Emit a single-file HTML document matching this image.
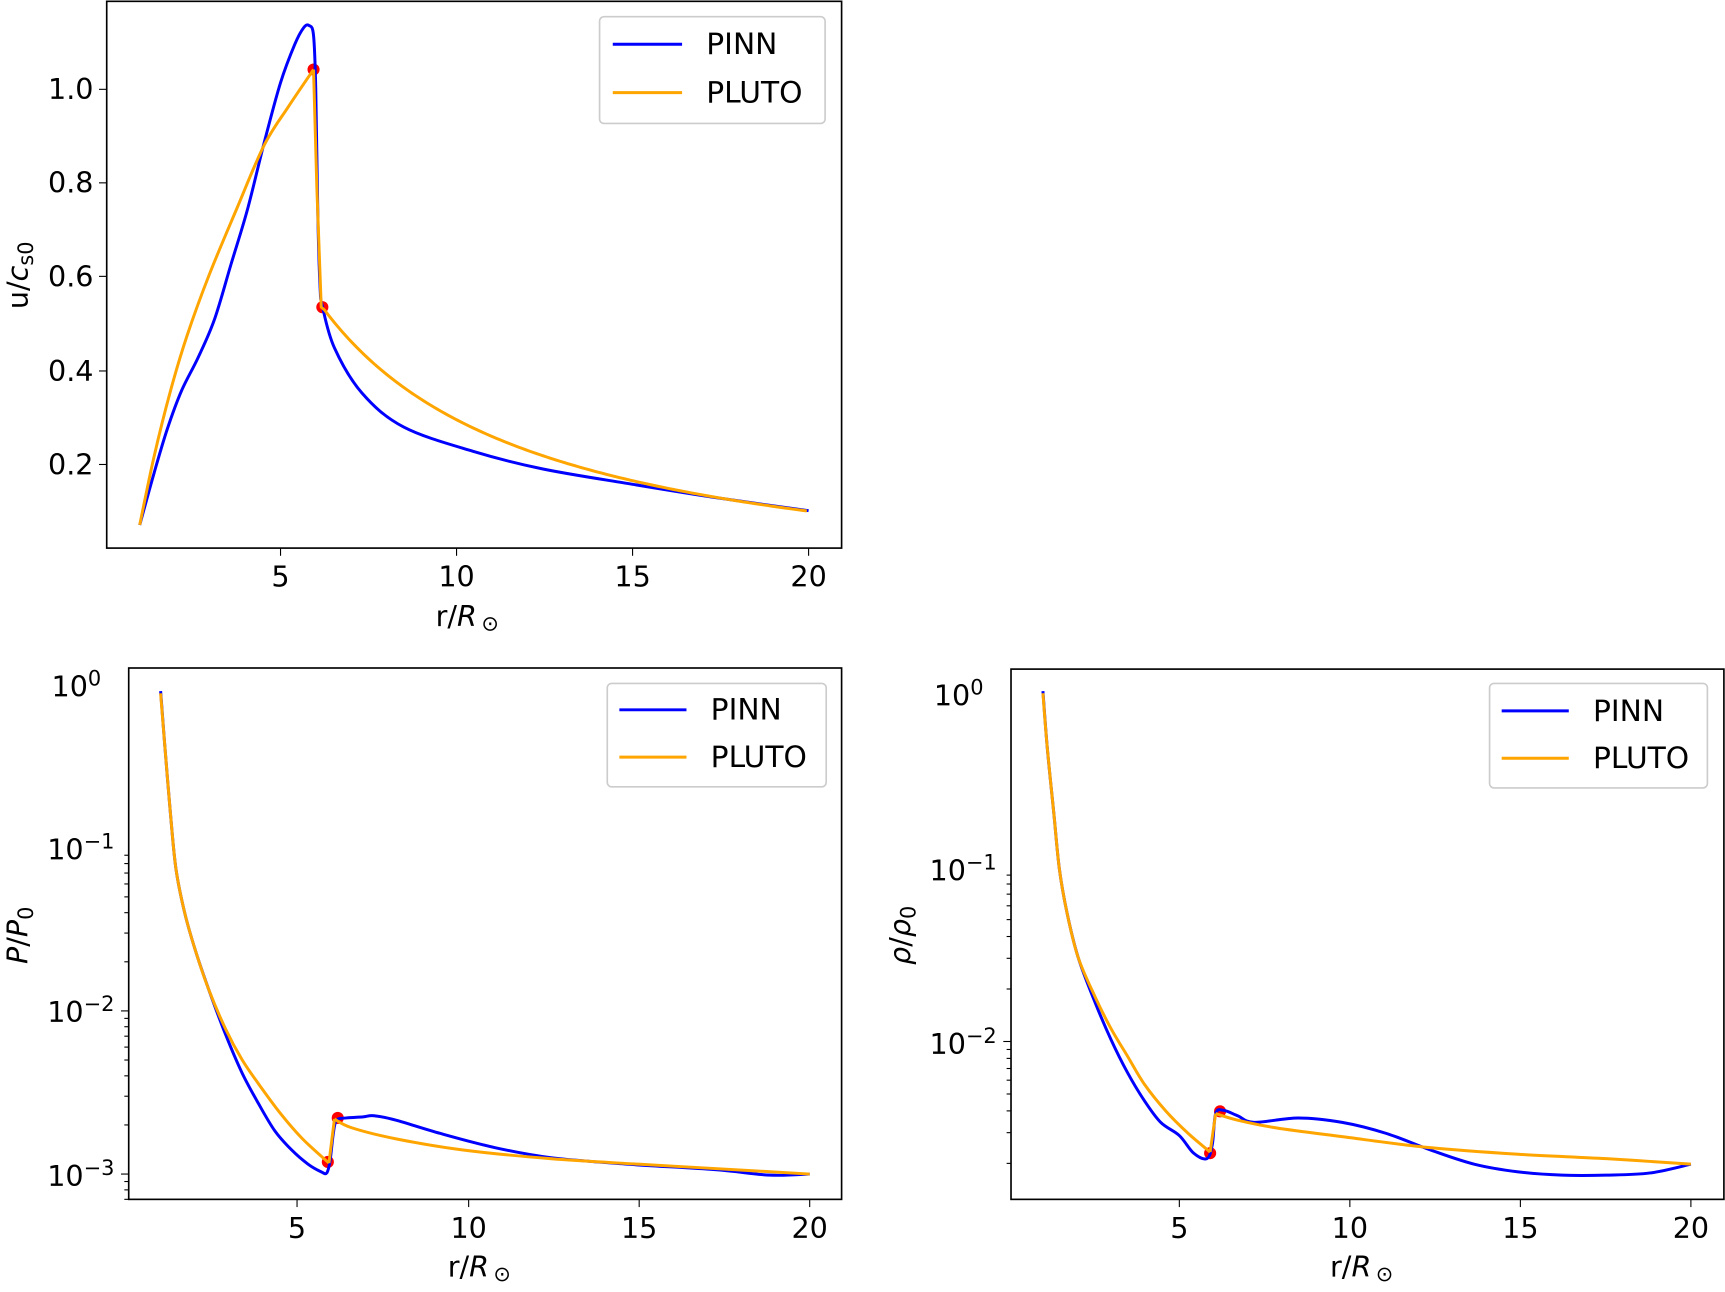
<!DOCTYPE html>
<html><head><meta charset="utf-8">
<style>
html,body{margin:0;padding:0;background:#fff;}
svg{display:block;}
text{font-family:"DejaVu Sans","Liberation Sans",sans-serif;fill:#000;}
</style></head>
<body>
<svg id="s" width="1725" height="1292" viewBox="0 0 1568 1174" xmlns="http://www.w3.org/2000/svg">
<rect x="0" y="0" width="1568" height="1174" fill="#fff"/>
<g id="curves"></g>
<g id="ticks" stroke="#000" stroke-width="1"></g>
<rect x="97" y="1" width="668" height="497" fill="none" stroke="#000" stroke-width="1.5"/>
<rect x="117" y="607" width="648" height="483" fill="none" stroke="#000" stroke-width="1.5"/>
<rect x="919" y="608" width="648" height="482" fill="none" stroke="#000" stroke-width="1.5"/>

<g font-size="26" text-anchor="end">
<text x="85" y="90">1.0</text><text x="85" y="175">0.8</text><text x="85" y="260">0.6</text>
<text x="85" y="346">0.4</text><text x="85" y="431">0.2</text>
</g>
<g font-size="26" text-anchor="middle">
<text x="255" y="533">5</text><text x="415" y="533">10</text><text x="575" y="533">15</text><text x="735" y="533">20</text>
<text x="270" y="1125">5</text><text x="426" y="1125">10</text><text x="581" y="1125">15</text><text x="736" y="1125">20</text>
<text x="1072" y="1125">5</text><text x="1227" y="1125">10</text><text x="1382" y="1125">15</text><text x="1537" y="1125">20</text>
</g>
<text x="396" y="569" font-size="26">r/<tspan font-style="italic">R</tspan><tspan font-size="19" dx="4" dy="4">⊙</tspan></text>
<text x="407" y="1160" font-size="26">r/<tspan font-style="italic">R</tspan><tspan font-size="19" dx="4" dy="4">⊙</tspan></text>
<text x="1209" y="1160" font-size="26">r/<tspan font-style="italic">R</tspan><tspan font-size="19" dx="4" dy="4">⊙</tspan></text>
<text transform="translate(25,250) rotate(-90)" font-size="26" text-anchor="middle">u/<tspan font-style="italic">c</tspan><tspan font-size="19" dy="5">s0</tspan></text>
<text transform="translate(25,850) rotate(-90)" font-size="26" text-anchor="middle"><tspan font-style="italic">P</tspan>/<tspan font-style="italic">P</tspan><tspan font-size="19" dy="5">0</tspan></text>
<text transform="translate(827,850) rotate(-90)" font-size="26" text-anchor="middle"><tspan font-style="italic">ρ</tspan>/<tspan font-style="italic">ρ</tspan><tspan font-size="19" dy="5">0</tspan></text>

<g font-size="26" text-anchor="end">
<text x="92" y="633">10<tspan font-size="19" dy="-10">0</tspan></text>
<text x="104" y="781">10<tspan font-size="19" dy="-10">−1</tspan></text>
<text x="104" y="929">10<tspan font-size="19" dy="-10">−2</tspan></text>
<text x="104" y="1078">10<tspan font-size="19" dy="-10">−3</tspan></text>
<text x="894" y="641">10<tspan font-size="19" dy="-10">0</tspan></text>
<text x="906" y="800">10<tspan font-size="19" dy="-10">−1</tspan></text>
<text x="906" y="958">10<tspan font-size="19" dy="-10">−2</tspan></text>
</g>

<g>
<rect x="545" y="15" width="205" height="97" rx="4" fill="#fff" stroke="#ccc" stroke-width="1.5"/>
<line x1="557" y1="40" x2="620" y2="40" stroke="#0000ff" stroke-width="2.7"/>
<line x1="557" y1="84" x2="620" y2="84" stroke="#ffa500" stroke-width="2.7"/>
<text x="642" y="49" font-size="27">PINN</text><text x="642" y="93" font-size="27">PLUTO</text>

<rect x="552" y="621" width="199" height="94" rx="4" fill="#fff" stroke="#ccc" stroke-width="1.5"/>
<line x1="563" y1="645" x2="624" y2="645" stroke="#0000ff" stroke-width="2.7"/>
<line x1="563" y1="688" x2="624" y2="688" stroke="#ffa500" stroke-width="2.7"/>
<text x="646" y="654" font-size="27">PINN</text><text x="646" y="697" font-size="27">PLUTO</text>

<rect x="1354" y="621" width="198" height="95" rx="4" fill="#fff" stroke="#ccc" stroke-width="1.5"/>
<line x1="1365" y1="646" x2="1426" y2="646" stroke="#0000ff" stroke-width="2.7"/>
<line x1="1365" y1="689" x2="1426" y2="689" stroke="#ffa500" stroke-width="2.7"/>
<text x="1448" y="655" font-size="27">PINN</text><text x="1448" y="698" font-size="27">PLUTO</text>
</g>
</svg>
<script>
var NS="http://www.w3.org/2000/svg";
function cr(p){var d="M"+p[0][0]+","+p[0][1];for(var i=0;i<p.length-1;i++){var p0=p[i-1]||p[i],p1=p[i],p2=p[i+1],p3=p[i+2]||p2;
var t=0.5/3;d+=" C"+(p1[0]+(p2[0]-p0[0])*t)+","+(p1[1]+(p2[1]-p0[1])*t)+" "+(p2[0]-(p3[0]-p1[0])*t)+","+(p2[1]-(p3[1]-p1[1])*t)+" "+p2[0]+","+p2[1];}return d;}
function pl(p){return "M"+p.map(function(q){return q[0].toFixed(2)+","+q[1].toFixed(2);}).join(" L");}
function add(d,col){var e=document.createElementNS(NS,"path");e.setAttribute("d",d);e.setAttribute("fill","none");e.setAttribute("stroke",col);e.setAttribute("stroke-width","2.7");e.setAttribute("stroke-linejoin","round");document.getElementById("curves").appendChild(e);}
function line(pts,col){add(cr(pts),col);}
function dot(x,y){var e=document.createElementNS(NS,"circle");e.setAttribute("cx",x);e.setAttribute("cy",y);e.setAttribute("r","5.5");e.setAttribute("fill","#ff0000");document.getElementById("curves").appendChild(e);}
function tk(x1,y1,x2,y2){var e=document.createElementNS(NS,"line");e.setAttribute("x1",x1);e.setAttribute("y1",y1);e.setAttribute("x2",x2);e.setAttribute("y2",y2);document.getElementById("ticks").appendChild(e);}
function X(r){return 127+(r-1)*32;} function Y(u){return 507-u*427;}
dot(285,63);dot(293,279);
line([[127,477],[140,430],[152,390],[165,355],[180,325],[195,290],[210,240],[225,190],[240,130],[255,75],[268,40],[276,25],[281,23],[285,32],[287,80],[289,200],[291,262],[293,278],[304,316],[329,357],[367,388],[430,410],[493,426],[575,440],[650,452],[735,464]],"#0000ff");
line([[127,477],[140,415],[155,355],[170,305],[190,250],[215,190],[240,132],[262,97],[285,63]],"#ffa500");
var o=[[285,63],[288,170],[292,279]];
for(var r=6.25;r<=20.001;r+=0.1){o.push([X(r),Y(-0.095+0.63*(6.18/r))]);}
add(pl(o),"#ffa500");
// P
dot(298,1056);dot(307,1016);
line([[146,628],[150,680],[155,740],[160,790],[168,830],[178,865],[190,900],[205,940],[220,975],[235,1003],[250,1028],[265,1045],[280,1058],[292,1065],[297,1066],[300,1055],[303,1030],[306,1018],[315,1016],[330,1015],[340,1014],[360,1018],[400,1030],[450,1043],[500,1052],[570,1058],[650,1063],[700,1068],[736,1067]],"#0000ff");
line([[146,630],[150,680],[155,740],[160,790],[168,830],[178,865],[190,900],[205,935],[220,963],[235,985],[255,1012],[275,1035],[299,1057]],"#ffa500");
line([[299,1057],[304,1017]],"#ffa500");
line([[304,1017],[320,1025],[360,1035],[420,1045],[500,1053],[580,1058],[650,1062],[736,1067]],"#ffa500");
// rho
dot(1100,1048);dot(1109,1010);
line([[948,628],[952,680],[958,740],[963,790],[970,830],[980,870],[995,910],[1010,945],[1025,975],[1040,1000],[1055,1020],[1072,1032],[1085,1048],[1097,1053],[1102,1040],[1105,1012],[1112,1009],[1125,1014],[1140,1020],[1180,1016],[1220,1020],[1260,1030],[1300,1045],[1340,1058],[1380,1065],[1420,1068],[1460,1068],[1500,1066],[1537,1058]],"#0000ff");
line([[948,630],[952,680],[958,740],[963,790],[970,830],[980,870],[995,905],[1010,935],[1025,960],[1040,985],[1060,1010],[1080,1030],[1100,1047]],"#ffa500");
line([[1100,1047],[1105,1012]],"#ffa500");
line([[1105,1012],[1125,1018],[1160,1025],[1220,1033],[1300,1043],[1380,1049],[1460,1053],[1537,1058]],"#ffa500");
[255,415,575,735].forEach(function(x){tk(x,498,x,505);});
[81,166,251,337,422].forEach(function(y){tk(97,y,90,y);});
[270,426,581,736].forEach(function(x){tk(x,1090,x,1097);});
[1072,1227,1382,1537].forEach(function(x){tk(x,1090,x,1097);});
function logt(x0,y0,d,top,bot,n){for(var e=-n;e<=1;e++){var ybase=y0+e*d;if(ybase>=top&&ybase<=bot)tk(x0,ybase,x0-7,ybase);for(var k=2;k<=9;k++){var y=ybase-Math.log10(k)*d;if(y>=top&&y<=bot)tk(x0,y,x0-4,y);}}}
logt(117,1067,148.3,607,1090,1);
logt(919,1105,158.5,608,1090,1);
</script>
</body></html>
